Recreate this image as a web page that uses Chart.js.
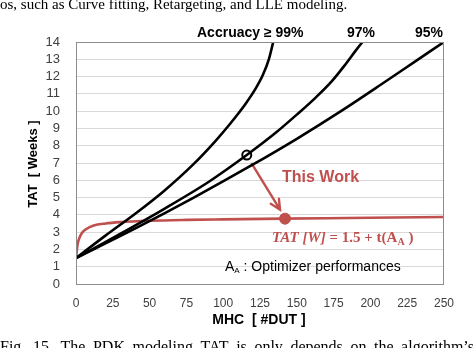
<!DOCTYPE html>
<html>
<head>
<meta charset="utf-8">
<script src="https://cdn.jsdelivr.net/npm/chart.js@4.4.0/dist/chart.umd.min.js"></script>
<style>
  html, body { margin: 0; padding: 0; background: #fff; }
  #wrap { width: 474px; height: 348px; position: relative; }
</style>
</head>
<body>
<div id="wrap"><canvas id="tatChart" width="474" height="348"></canvas></div>
<script>
// --- Data (x = MHC [#DUT], y = TAT [weeks]) ---
const xTicks = [0, 25, 50, 75, 100, 125, 150, 175, 200, 225, 250];
const yTicks = [0, 1, 2, 3, 4, 5, 6, 7, 8, 9, 10, 11, 12, 13, 14];

const acc99X = [0, 20, 40, 60, 80, 95, 105, 115, 122, 127, 131, 134];
const acc99Y = [1.5, 2.8, 4.05, 5.4, 6.95, 8.3, 9.3, 10.4, 11.3, 12.1, 13.0, 14.0];

const acc97X = [0, 30, 60, 90, 116, 135, 150, 163, 174, 183, 190, 196.5];
const acc97Y = [1.5, 2.9, 4.35, 5.9, 7.46, 8.7, 9.8, 10.8, 11.75, 12.7, 13.5, 14.2];

const acc95X = [0, 40, 80, 120, 150, 180, 210, 230, 250];
const acc95Y = [1.5, 3.2, 5.0, 6.9, 8.4, 10.0, 11.7, 12.85, 14.0];

const workX = [0, 1, 2, 4, 7, 12, 20, 30, 50, 75, 100, 140, 200, 250];
const workY = [1.5, 2.25, 2.6, 2.95, 3.18, 3.38, 3.5, 3.58, 3.66, 3.71, 3.74, 3.78, 3.83, 3.88];

const openMark = [116, 7.46];
const workMark = [142, 3.78];
const arrowFrom = [119.5, 6.95];
const arrowTo = [138.6, 4.3];

const RED = '#c0504d';
const pts = (xs, ys) => xs.map((x, i) => ({ x, y: ys[i] }));

function lineSet(xs, ys, color) {
  return {
    data: pts(xs, ys), showLine: true, borderColor: color, borderWidth: 2.6,
    pointRadius: 0, cubicInterpolationMode: 'monotone', fill: false
  };
}

// --- Text, frame and arrow overlay ---
const overlay = {
  id: 'overlay',
  beforeDatasetsDraw(chart) {
    const { ctx, scales: { x, y } } = chart;
    // arrow "This Work"
    const x0 = x.getPixelForValue(arrowFrom[0]), y0 = y.getPixelForValue(arrowFrom[1]);
    const x1 = x.getPixelForValue(arrowTo[0]), y1 = y.getPixelForValue(arrowTo[1]);
    const ang = Math.atan2(y1 - y0, x1 - x0);
    ctx.save();
    ctx.strokeStyle = RED; ctx.lineWidth = 2.4; ctx.lineCap = 'round';
    ctx.beginPath(); ctx.moveTo(x0, y0); ctx.lineTo(x1, y1);
    ctx.moveTo(x1 - 11 * Math.cos(ang - 0.45), y1 - 11 * Math.sin(ang - 0.45));
    ctx.lineTo(x1, y1);
    ctx.lineTo(x1 - 11 * Math.cos(ang + 0.45), y1 - 11 * Math.sin(ang + 0.45));
    ctx.stroke();
    ctx.restore();
  },
  afterDraw(chart) {
    const { ctx, chartArea: a } = chart;
    ctx.save();
    // plot frame
    ctx.strokeStyle = '#8c8c8c'; ctx.lineWidth = 1;
    ctx.strokeRect(a.left + 0.5, a.top + 0.5, a.right - a.left - 1, a.bottom - a.top);

    // curve labels on top
    ctx.fillStyle = '#000'; ctx.textBaseline = 'alphabetic';
    ctx.font = 'bold 14px "Liberation Sans", Arial, sans-serif';
    ctx.textAlign = 'left';
    ctx.fillText('Accruacy \u2265 99%', 197, 37);
    ctx.fillText('97%', 347, 37);
    ctx.fillText('95%', 415, 37);

    // axis titles
    ctx.font = 'bold 13px "Liberation Sans", Arial, sans-serif';
    ctx.save();
    ctx.translate(33, 164); ctx.rotate(-Math.PI / 2);
    ctx.textAlign = 'center'; ctx.textBaseline = 'middle';
    ctx.fillText('TAT  [ Weeks ]', 0, 0);
    ctx.restore();
    ctx.font = 'bold 14px "Liberation Sans", Arial, sans-serif';
    ctx.textAlign = 'center'; ctx.textBaseline = 'middle';
    ctx.fillText('MHC  [ #DUT ]', 259, 320);

    // This Work
    ctx.textAlign = 'left'; ctx.textBaseline = 'alphabetic';
    ctx.fillStyle = RED;
    ctx.font = 'bold 16px "Liberation Sans", Arial, sans-serif';
    ctx.fillText('This Work', 282, 182);

    // formula TAT [W] = 1.5 + t(A_A )
    let cx = 272;
    const base = 242;
    const seg = (t, font, dy = 0) => {
      ctx.font = font; ctx.fillText(t, cx, base + dy); cx += ctx.measureText(t).width;
    };
    seg('TAT [W]', 'italic bold 15px "Liberation Serif", serif');
    seg(' = 1.5 + t(A', 'bold 15px "Liberation Serif", serif');
    seg('A', 'bold 10px "Liberation Serif", serif', 3);
    seg(' )', 'bold 15px "Liberation Serif", serif');

    // A_A : Optimizer performances
    ctx.fillStyle = '#000';
    cx = 225;
    const b2 = 271;
    ctx.font = '14px "Liberation Sans", Arial, sans-serif';
    ctx.fillText('A', cx, b2); cx += ctx.measureText('A').width;
    ctx.font = '8px "Liberation Sans", Arial, sans-serif';
    ctx.fillText('A', cx, b2 + 2); cx += ctx.measureText('A').width;
    ctx.font = '14px "Liberation Sans", Arial, sans-serif';
    ctx.fillText(' : Optimizer performances', cx, b2);

    // surrounding paper text
    ctx.font = '15px "Liberation Serif", "Times New Roman", serif';
    ctx.fillText('os, such as Curve fitting, Retargeting, and LLE modeling.', 0, 9);
    ctx.font = '16px "Liberation Serif", "Times New Roman", serif';
    const words = 'Fig. 15. The PDK modeling TAT is only depends on the algorithm\u2019s'.split(' ');
    const wsum = words.reduce((s, w) => s + ctx.measureText(w).width, 0);
    const gap = (474 - wsum) / (words.length - 1);
    cx = 0;
    words.forEach(w => { ctx.fillText(w, cx, 352); cx += ctx.measureText(w).width + gap; });
    ctx.restore();
  }
};

new Chart(document.getElementById('tatChart'), {
  type: 'scatter',
  data: {
    datasets: [
      lineSet(acc99X, acc99Y, '#000'),
      lineSet(acc97X, acc97Y, '#000'),
      lineSet(acc95X, acc95Y, '#000'),
      lineSet(workX, workY, RED),
      { data: [{ x: openMark[0], y: openMark[1] }], pointRadius: 4.5, pointBackgroundColor: '#fff',
        pointBorderColor: '#000', pointBorderWidth: 2 },
      { data: [{ x: workMark[0], y: workMark[1] }], pointRadius: 5.5, pointBackgroundColor: RED,
        pointBorderColor: RED, pointBorderWidth: 1 }
    ]
  },
  options: {
    responsive: false,
    devicePixelRatio: 1,
    animation: false,
    events: [],
    layout: { padding: { left: 0, top: 42, right: 30, bottom: 0 } },
    plugins: { legend: { display: false }, tooltip: { enabled: false } },
    scales: {
      x: {
        type: 'linear', min: 0, max: 250,
        afterFit: s => { s.height = 64; },
        afterBuildTicks: s => { s.ticks = xTicks.map(v => ({ value: v })); },
        grid: { display: false, drawTicks: false },
        border: { display: false },
        ticks: { autoSkip: false, maxRotation: 0, padding: 12, color: '#404040', font: { family: '"Liberation Sans", Arial', size: 12 } }
      },
      y: {
        min: 0, max: 14,
        afterFit: s => { s.width = 76; },
        afterBuildTicks: s => { s.ticks = yTicks.map(v => ({ value: v })); },
        grid: { color: '#d9d9d9', lineWidth: 1, drawTicks: false },
        border: { display: false },
        ticks: { autoSkip: false, padding: 16, color: '#404040', font: { family: '"Liberation Sans", Arial', size: 13 } }
      }
    }
  },
  plugins: [overlay]
});
</script>
</body>
</html>
